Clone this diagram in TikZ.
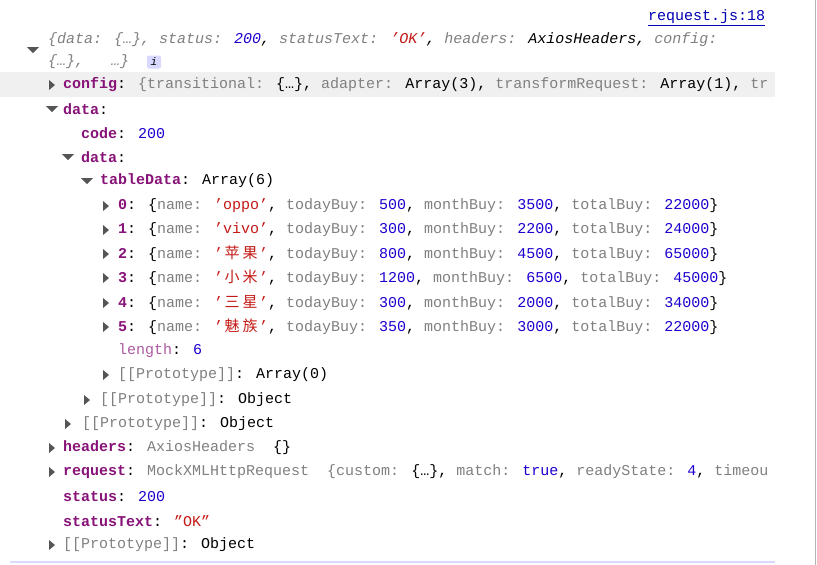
\documentclass[tikz,border=0pt]{standalone}
\usepackage{fontspec}
\setmainfont{Liberation Mono}
\newfontfamily\cjk{Noto Sans CJK SC}
\definecolor{kc}{RGB}{136,19,120}
\definecolor{nc}{RGB}{28,0,207}
\definecolor{sc}{RGB}{196,26,22}
\definecolor{gc}{RGB}{128,128,128}
\definecolor{tc}{RGB}{85,85,85}
\newcommand\K[1]{\textcolor{kc}{\bfseries #1}}
\newcommand\N[1]{\textcolor{nc}{#1}}
\newcommand\Sx[1]{\textcolor{sc}{#1}}
\newcommand\G[1]{\textcolor{gc}{#1}}
\newcommand\C[1]{\makebox[18pt]{\cjk #1}}
\newcommand\tr[2]{\fill[tc] (#1-3,#2-5) -- (#1+3,#2) -- (#1-3,#2+5) -- cycle;}
\newcommand\td[2]{\fill[tc] (#1-6,#2-3) -- (#1+6,#2-3) -- (#1,#2+3) -- cycle;}
\tikzset{ln/.style={anchor=west,inner sep=0pt,font=\fontsize{15}{18}\selectfont}}
\begin{document}
\begin{tikzpicture}[x=1pt,y=-1pt]
\useasboundingbox (0,0) rectangle (817,565);
\fill[white] (0,0) rectangle (817,565);
\draw[gc!60,line width=1pt] (815,0) -- (815,565);
\draw[blue!15,line width=1.5pt] (10,562) -- (775,562);
\fill[black!6] (0,72) rectangle (775,97);
\node[ln,text=blue!70!black] (src) at (648,18) {\underline{request.js:18}};
\td{33}{50}
\node[ln] (l1) at (48,40) {\itshape\G{\{data: \{…\},} \G{status:} \N{200}, \G{statusText:} \Sx{'OK'}, \G{headers:} AxiosHeaders, \G{config:}};
\node[ln] (l2) at (48,62) {\itshape\G{\{…\},~~~…\}}};
\node[fill=blue!15,rounded corners=2pt,minimum width=14pt,minimum height=13pt,inner sep=0pt,font=\fontsize{11}{12}\selectfont\itshape] (info) at (154,62) {i};
\tr{52}{85}
\node[ln] (cfg) at (63,85) {\K{config}: \G{\{transitional:} \{…\}, \G{adapter:} Array(3), \G{transformRequest:} Array(1), \G{tr}};
\tr{52}{472}
\node[ln] (req) at (63,472) {\K{request}: \G{MockXMLHttpRequest}~~\G{\{custom:} \{…\}, \G{match:} \N{true}, \G{readyState:} \N{4}, \G{timeou}};
\td{52}{109}
\node[ln] (d1) at (63,109) {\K{data}:};
\node[ln] (code) at (81,133) {\K{code}: \N{200}};
\td{68}{157}
\node[ln] (d2) at (81,157) {\K{data}:};
\td{87}{181}
\node[ln] (td) at (100,181) {\K{tableData}: Array(6)};
\tr{106}{206}\node[ln] (r0) at (118,206) {\K{0}: \{\G{name:} \Sx{'oppo'}, \G{todayBuy:} \N{500}, \G{monthBuy:} \N{3500}, \G{totalBuy:} \N{22000}\}};
\tr{106}{230}\node[ln] (r1) at (118,230) {\K{1}: \{\G{name:} \Sx{'vivo'}, \G{todayBuy:} \N{300}, \G{monthBuy:} \N{2200}, \G{totalBuy:} \N{24000}\}};
\tr{106}{254}\node[ln] (r2) at (118,254) {\K{2}: \{\G{name:} \Sx{'\C{苹}\C{果}'}, \G{todayBuy:} \N{800}, \G{monthBuy:} \N{4500}, \G{totalBuy:} \N{65000}\}};
\tr{106}{278}\node[ln] (r3) at (118,278) {\K{3}: \{\G{name:} \Sx{'\C{小}\C{米}'}, \G{todayBuy:} \N{1200}, \G{monthBuy:} \N{6500}, \G{totalBuy:} \N{45000}\}};
\tr{106}{303}\node[ln] (r4) at (118,303) {\K{4}: \{\G{name:} \Sx{'\C{三}\C{星}'}, \G{todayBuy:} \N{300}, \G{monthBuy:} \N{2000}, \G{totalBuy:} \N{34000}\}};
\tr{106}{327}\node[ln] (r5) at (118,327) {\K{5}: \{\G{name:} \Sx{'\C{魅}\C{族}'}, \G{todayBuy:} \N{350}, \G{monthBuy:} \N{3000}, \G{totalBuy:} \N{22000}\}};
\node[ln] (len) at (118,351) {\textcolor{kc!70}{length}: \N{6}};
\tr{106}{375}\node[ln] (p1) at (118,375) {\G{[[Prototype]]}: Array(0)};
\tr{87}{400}\node[ln] (p2) at (100,400) {\G{[[Prototype]]}: Object};
\tr{68}{424}\node[ln] (p3) at (82,424) {\G{[[Prototype]]}: Object};
\tr{52}{448}\node[ln] (hd) at (63,448) {\K{headers}: \G{AxiosHeaders}~~\{\}};
\node[ln] (st) at (63,497) {\K{status}: \N{200}};
\node[ln] (stt) at (63,521) {\K{statusText}: \Sx{"OK"}};
\tr{52}{545}\node[ln] (p4) at (63,545) {\G{[[Prototype]]}: Object};
\end{tikzpicture}
\end{document}
